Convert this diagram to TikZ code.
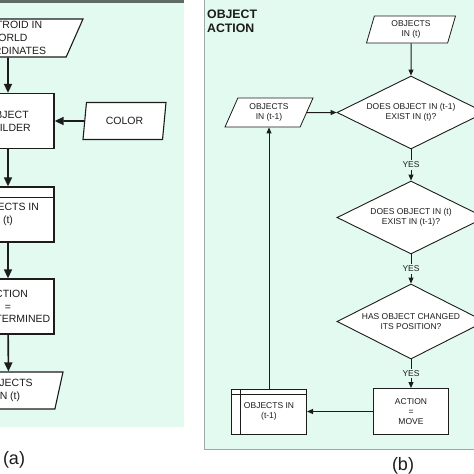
\documentclass[tikz,border=0pt]{standalone}
\usepackage{fontspec}
\setmainfont{Liberation Sans}
\usepackage{tikz}
\usetikzlibrary{arrows.meta,positioning,shapes.geometric}
\definecolor{mintbg}{HTML}{E2FAF0}
\definecolor{bargray}{HTML}{5E6B66}
\definecolor{framegray}{HTML}{9CAAA4}
\definecolor{inkx}{HTML}{1C1C1C}
\tikzset{
  arA/.style={-{Triangle[length=9pt,width=8pt]},line width=1.6pt,inkx},
  arB/.style={-{Triangle[length=6pt,width=5pt]},line width=1pt,inkx},
  txtA/.style={align=center,inner sep=0pt,text=inkx,font=\fontsize{10.5}{12.8}\selectfont},
  txtB/.style={align=center,inner sep=0pt,text=inkx,font=\fontsize{8.5}{10}\selectfont},
  boxA/.style={txtA,draw=inkx,line width=1.3pt,fill=white,minimum width=92pt,minimum height=55pt},
  boxB/.style={txtB,draw=inkx,line width=1pt,fill=white,minimum width=75pt,minimum height=46pt},
  paraA/.style={txtA,trapezium,trapezium stretches body,trapezium left angle=#1,trapezium right angle={180-#1},draw=inkx,line width=1.1pt,fill=white},
  paraB/.style={txtB,trapezium,trapezium stretches body,trapezium left angle=#1,trapezium right angle={180-#1},draw=inkx,line width=0.8pt,fill=white},
  diaB/.style={txtB,diamond,aspect=2,draw=inkx,line width=0.9pt,fill=white,minimum width=148pt},
  storeA/.style={boxA,path picture={
      \draw[line width=1pt] ([yshift=-10pt]path picture bounding box.north west) -- ([yshift=-10pt]path picture bounding box.north east);
      \draw[line width=1pt] ([xshift=9pt]path picture bounding box.north west) -- ([xshift=9pt]path picture bounding box.south west);}},
  storeB/.style={boxB,minimum height=45pt,path picture={
      \draw[line width=0.7pt] ([yshift=-5pt]path picture bounding box.north west) -- ([yshift=-5pt]path picture bounding box.north east);
      \draw[line width=0.7pt] ([xshift=9pt]path picture bounding box.north west) -- ([xshift=9pt]path picture bounding box.south west);}},
  yes/.style={txtB,fill=mintbg,inner sep=1.5pt},
  panelcap/.style={inner sep=0pt,text=inkx,font=\fontsize{18}{20}\selectfont}
}

\begin{document}
\begin{tikzpicture}[x=1pt,y=-1pt]
\useasboundingbox (0,0) rectangle (474,474);
\clip (0,0) rectangle (474,474);
% panels
\fill[mintbg] (0,2) rectangle (184,427);
\fill[bargray] (0,0) rectangle (184,3);
\fill[mintbg] (204,-5) rectangle (480,449);
\draw[framegray,line width=0.8pt] (204,-5) -- (204,449) -- (480,449);

% (a) object builder
\node[paraA=63,minimum width=150pt,minimum height=38pt] (cen) at (8,38) {CENTROID IN\\WORLD\\COORDINATES};
\node[boxA] (build) at (8,121) {OBJECT\\BUILDER};
\node[paraA=65,minimum width=83pt,minimum height=37pt] (color) at (124.5,121) {COLOR};
\node[storeA] (objnow) at (8,214.5) {OBJECTS IN\\(t)};
\node[boxA] (undet) at (8,306.5) {ACTION\\=\\UNDETERMINED};
\node[paraA=70,minimum width=109pt,minimum height=37pt] (objout) at (8.5,390.5) {OBJECTS\\IN (t)};
\draw[arA] (cen) -- (build);
\draw[arA] (color) -- (build);
\draw[arA] (build) -- (objnow);
\draw[arA] (objnow) -- (undet);
\draw[arA] (undet) -- (objout);
\node[panelcap] (capa) at (14,460) {(a)};

% (b) object action
\node[anchor=north west,align=left,inner sep=0pt,text=inkx,font=\bfseries\fontsize{12.3}{14}\selectfont] (title) at (207,10) {OBJECT\\ACTION};
\node[paraB=66,minimum width=89pt,minimum height=27pt] (tin) at (411,29.5) {OBJECTS\\IN (t)};
\node[diaB,minimum height=73pt] (exist1) at (411,112.5) {DOES OBJECT IN (t-1)\\EXIST IN (t)?};
\node[paraB=54,minimum width=88pt,minimum height=29pt] (tprev) at (269,112.5) {OBJECTS\\IN (t-1)};
\node[diaB,minimum height=73pt] (exist2) at (411,217.5) {DOES OBJECT IN (t)\\EXIST IN (t-1)?};
\node[diaB,minimum height=75pt] (moved) at (411,321.5) {HAS OBJECT CHANGED\\ITS POSITION?};
\node[boxB] (move) at (411,411.5) {ACTION\\=\\MOVE};
\node[storeB] (tstore) at (269,411.5) {OBJECTS IN\\(t-1)};
\draw[arB] (tin) -- (exist1);
\draw[arB] (tprev) -- (exist1);
\draw[arB] (exist1) -- node[yes]{YES} (exist2);
\draw[arB] (exist2) -- node[yes]{YES} (moved);
\draw[arB] (moved) -- node[yes]{YES} (move);
\draw[arB] (move) -- (tstore);
\draw[arB] (tstore) -- (tprev);
\node[panelcap] (capb) at (403,466) {(b)};
\end{tikzpicture}
\end{document}
